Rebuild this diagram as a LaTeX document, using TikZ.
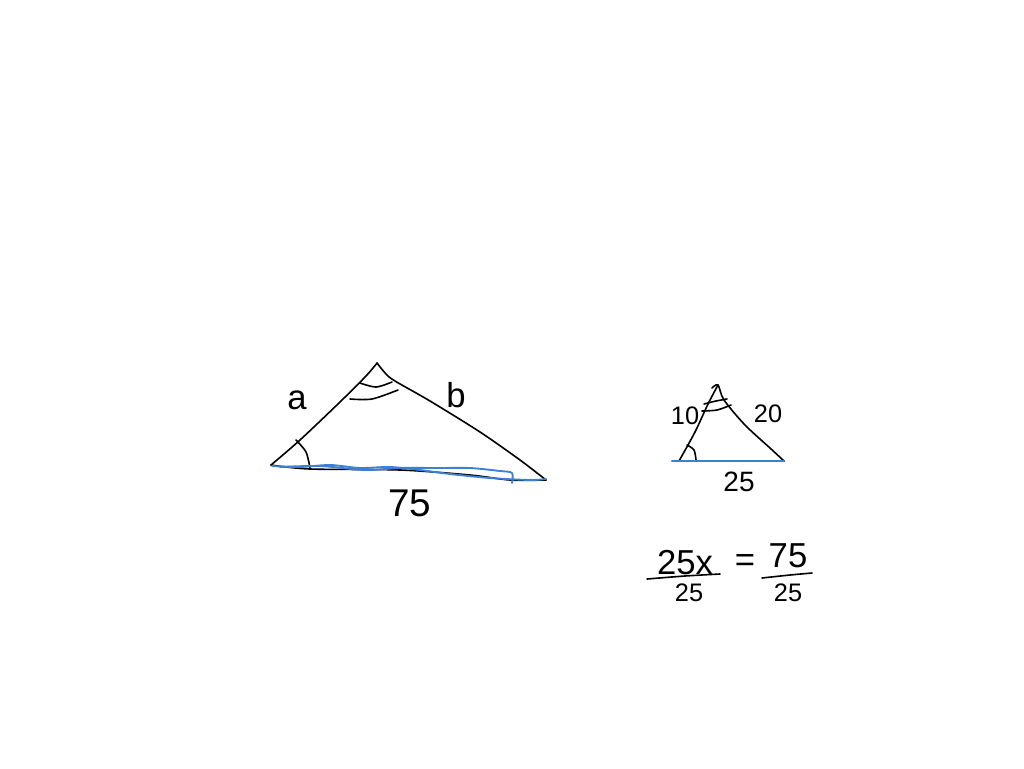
\documentclass[tikz,border=0pt]{standalone}
\usepackage{fontspec}
\setmainfont{Liberation Sans}
\definecolor{penblue}{RGB}{58,128,214}
\tikzset{
  ink/.style={line width=1.2pt, black, line cap=round, line join=round},
  blueink/.style={line width=1.4pt, penblue, line cap=round, line join=round},
  lbl/.style={font=\fontsize{26}{26}\selectfont, inner sep=0pt},
  smlbl/.style={font=\fontsize{19}{19}\selectfont, inner sep=0pt}
}
\begin{document}
\begin{tikzpicture}[x=0.75pt,y=-0.75pt]
\useasboundingbox (0,0) rectangle (1024,768);
% big triangle
\coordinate (A) at (271,465);
\coordinate (B) at (377,363);
\coordinate (C) at (546,480);
\draw[ink] plot[smooth] coordinates {(A) (300,440) (340,402) (366,376) (B)};
\draw[ink] plot[smooth] coordinates {(B) (386,374) (395,381) (430,401) (480,432) (520,460) (C)};
\draw[ink] plot[smooth] coordinates {(A) (310,469) (400,470) (470,475) (510,480) (C)};
% angle marks
\draw[ink] plot[smooth] coordinates {(296,440) (306,452) (310,468)};
\draw[ink] plot[smooth] coordinates {(360,383) (376,387) (392,382)};
\draw[ink] plot[smooth] coordinates {(350,399) (372,399) (398,390)};
% blue scribble
\draw[blueink] plot[smooth] coordinates {(272,466) (300,467) (330,465) (360,468) (390,467) (420,470) (450,474) (490,478) (530,480) (546,479)};
\draw[blueink] plot[smooth] coordinates {(280,467) (320,466) (365,470) (400,468) (440,468) (470,468) (500,471) (512,473) (512,483)};
% labels
\node[lbl] (la) at (297,400) {a};
\node[lbl] (lb) at (456,395) {b};
\node[lbl, font=\fontsize{29}{29}\selectfont] (l75) at (410,503) {75};
% small triangle
\coordinate (D) at (679,461);
\coordinate (E) at (718,385);
\coordinate (F) at (784,461);
\draw[ink] plot[smooth] coordinates {(D) (695,432) (708,404) (E)};
\draw[ink] plot[smooth] coordinates {(712,388) (E) (724,400) (745,425) (770,448) (F)};
\draw[ink] (D) -- (F);
\draw[ink] plot[smooth] coordinates {(704,404) (716,401) (727,399)};
\draw[ink] plot[smooth] coordinates {(702,411) (717,410) (731,405)};
\draw[ink] plot[smooth] coordinates {(687,445) (694,450) (696,460)};
\draw[blueink, line width=2pt] (672,461) -- (784,461);
\node[smlbl] (l10) at (685,416) {10};
\node[smlbl] (l20) at (768,414) {20};
\node[smlbl, font=\fontsize{21}{21}\selectfont] (l25) at (739,482) {25};
% equation
\node[lbl] (n25x) at (685,563) {25x};
\draw[ink] plot[smooth] coordinates {(647,579) (685,576) (720,574)};
\node[smlbl] (d1) at (689,593) {25};
\node[lbl] (eq) at (745,563) {=};
\node[lbl] (n75) at (788,556) {75};
\draw[ink] plot[smooth] coordinates {(762,578) (790,575) (812,573)};
\node[smlbl] (d2) at (788,593) {25};
\end{tikzpicture}
\end{document}
